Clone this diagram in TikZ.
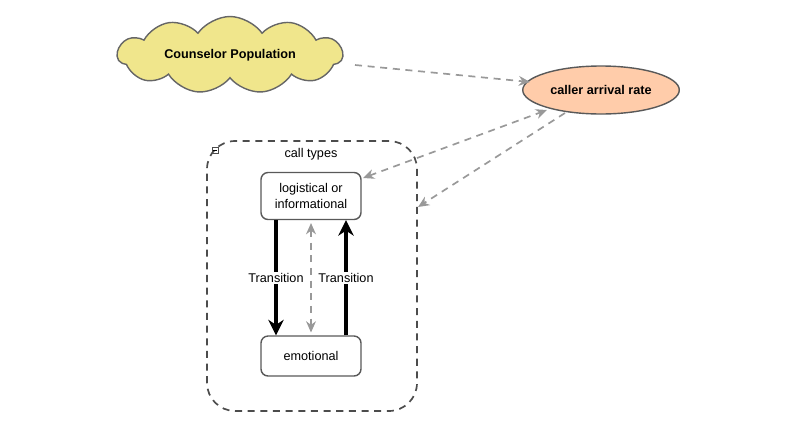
\documentclass[tikz,border=0pt]{standalone}
\usepackage{fontspec}
\setmainfont{Liberation Sans}
\usetikzlibrary{shapes.symbols,shapes.geometric,arrows.meta}
\begin{document}
\begin{tikzpicture}[x=0.025cm,y=-0.025cm,
  dep/.style={draw=gray!80,dashed,line width=1.2pt,dash pattern=on 5pt off 4pt,-{Stealth[length=8pt,width=7pt]}},
  box/.style={draw=black!65,line width=1pt,rounded corners=5pt,fill=white,minimum width=100*0.025cm,align=center,font=\small},
  thick arr/.style={line width=3.5pt,-{Stealth[length=11pt,width=11pt]}},
  lbl/.style={fill=white,inner sep=1pt,font=\small}]
\useasboundingbox (0,0) rectangle (800,429);
\node[cloud,cloud puffs=11,cloud puff arc=110,aspect=4,draw=black!60,fill={rgb,255:red,240;green,230;blue,140},line width=1pt,minimum width=225*0.025cm,minimum height=62*0.025cm,font=\small\bfseries] (cp) at (230,55) {Counselor Population};
\node[ellipse,draw=black!65,fill={rgb,255:red,255;green,204;blue,170},line width=1pt,minimum width=150*0.025cm,minimum height=48*0.025cm,font=\small\bfseries] (car) at (601,90) {caller arrival rate};
\node[draw=black!70,dashed,dash pattern=on 5pt off 4pt,line width=1.2pt,rounded corners=20pt,minimum width=210*0.025cm,minimum height=270*0.025cm] (ct) at (312,276) {};
\node[font=\small] (ctl) at (311,154) {call types};
\node[draw=black!70,line width=0.6pt,minimum size=6*0.025cm,inner sep=0pt] (mn) at (215,150) {};
\draw[line width=0.6pt] (mn.west) ++(1.5,0) -- ([xshift=-1.5*0.025cm]mn.east);
\node[box,minimum height=47*0.025cm] (li) at (311,196) {logistical or\\informational};
\node[box,minimum height=40*0.025cm] (em) at (311,356) {emotional};
\coordinate (cpo) at (355,65);
\coordinate (cari) at (530,82);
\draw[dep] (cpo) -- (cari);
\coordinate (a1) at (547,110);
\coordinate (a2) at (363,178);
\draw[dep,{Stealth[length=8pt,width=7pt]}-{Stealth[length=8pt,width=7pt]}] (a2) -- (a1);
\coordinate (b1) at (565,113);
\coordinate (b2) at (418,207);
\draw[dep] (b1) -- (b2);
\draw[thick arr] (li.south -| 276,0) -- (em.north -| 276,0) node[lbl,midway] {Transition};
\draw[thick arr] (em.north -| 346,0) -- (li.south -| 346,0) node[lbl,midway] {Transition};
\draw[dep,{Stealth[length=8pt,width=7pt]}-{Stealth[length=8pt,width=7pt]},shorten <=2pt,shorten >=2pt] (li.south) -- (em.north);
\end{tikzpicture}
\end{document}
